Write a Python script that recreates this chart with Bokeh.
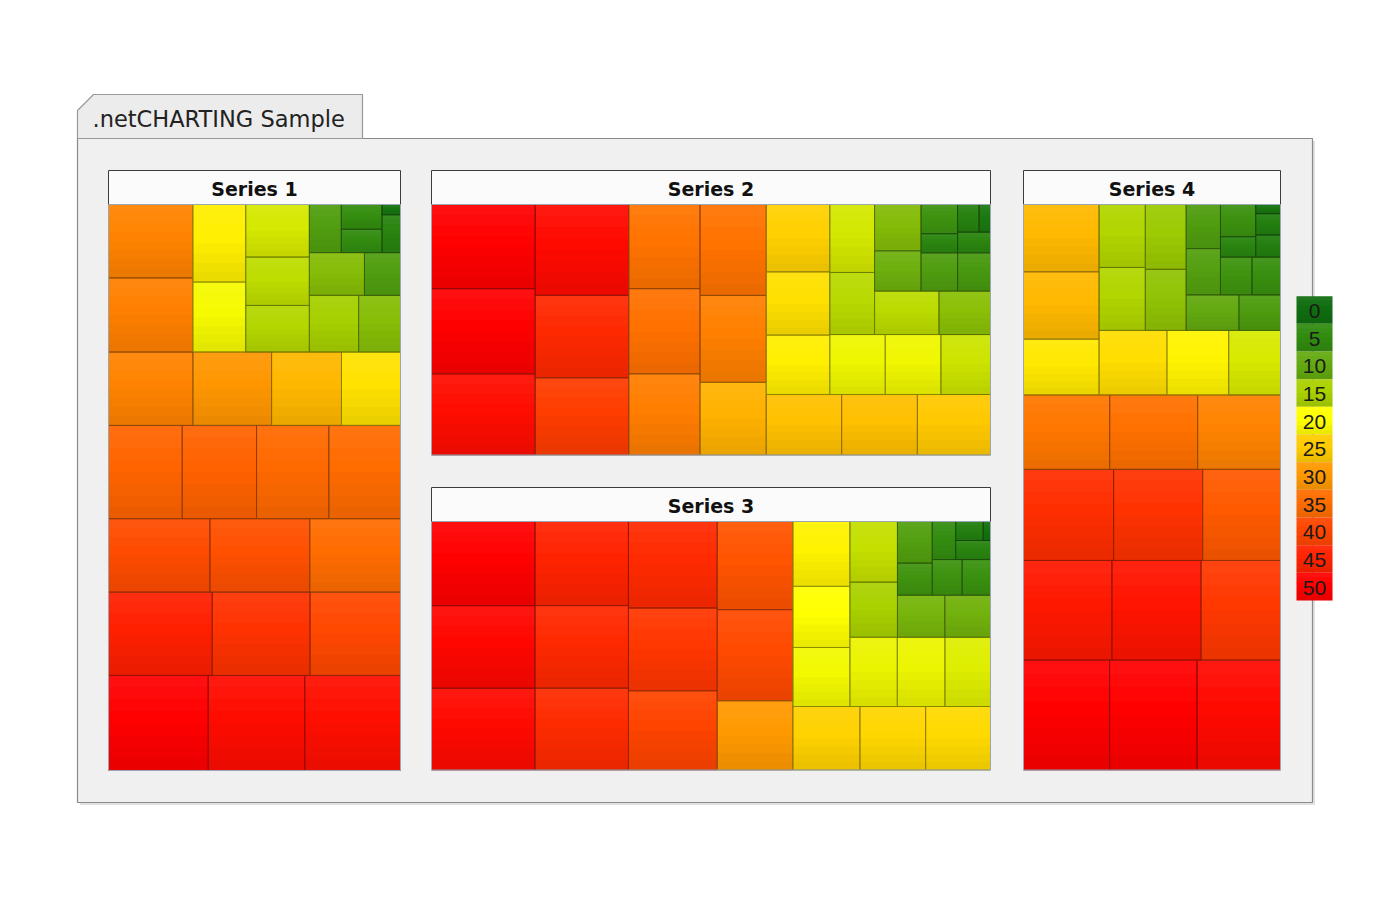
import numpy as np
from bokeh.plotting import figure
from bokeh.models import Range1d
from bokeh.core.properties import value
from bokeh.embed import file_html
from bokeh.resources import INLINE

# ---------------- data ----------------
chart_title = ".netCHARTING Sample"
series_names = ["Series 1", "Series 2", "Series 3", "Series 4"]

# each series: list of strips (groups laid out together by the treemap), values 0..50
series1 = [
    [49.9, 48.3, 47.9],
    [45.5, 42.9, 39.7],
    [39.2, 38.6, 35.1],
    [36.2, 36.5, 35.5, 35.2],
    [32.6, 30.4, 27.0, 22.8],
    [32.6, 32.9],
    [21.6, 19.5],
    [17.6, 16.2, 15.6],
    [14.7, 12.5],
    [12.4, 8.1],
    [8.1],
    [5.3, 5.0],
    [3.7],
    [1.0],
]
series2 = [
    [49.9, 50.5, 48.1],
    [48.6, 44.1, 41.3],
    [34.3, 34.7, 33.1],
    [34.4, 32.9, 27.5],
    [26.1, 26.2, 25.3],
    [24.5, 23.0, 21.6],
    [19.0, 19.1, 17.0],
    [17.4, 15.9],
    [16.0, 12.8],
    [12.3, 10.7],
    [8.0, 7.2],
    [6.1, 4.0],
    [3.9],
    [3.4],
    [1.8],
]
series3 = [
    [49.9, 49.0, 48.5],
    [45.0, 44.2, 43.8],
    [44.0, 42.1, 40.3],
    [38.2, 39.5, 30.0],
    [24.4, 23.9, 23.6],
    [21.2, 20.0, 19.3],
    [18.8, 18.9, 18.1],
    [16.5, 15.0],
    [11.4, 11.0],
    [8.3, 6.4],
    [6.1, 5.8],
    [5.1],
    [3.8],
    [3.0],
    [0.8],
]
series4 = [
    [50.0, 50.8, 48.5],
    [46.6, 47.0, 41.9],
    [43.4, 42.9, 37.5],
    [33.9, 34.6, 32.6],
    [26.9, 26.9, 22.3],
    [23.2, 21.1, 17.7],
    [15.4, 15.4],
    [14.0, 13.2],
    [9.9, 7.8],
    [8.0, 8.4],
    [6.3, 5.7],
    [6.0, 3.8],
    [2.9],
    [2.8],
    [1.2],
]
legend_ticks = [0, 5, 10, 15, 20, 25, 30, 35, 40, 45, 50]

# ---------------- style / layout ----------------
# strip orientation per series: h = row along the bottom, v = column at the left
strip_dirs = ["hhhhhvvvhhvvhh", "vvvvhvhvhvhvhvv", "vvvvhvhvhvhvhvv", "hhhhvhvvhvhvhhh"]

anchor_rgb = [(16, 110, 16), (50, 140, 16), (100, 170, 16), (170, 210, 0), (255, 255, 0),
              (255, 204, 0), (255, 153, 0), (255, 110, 0), (255, 70, 0), (255, 35, 0), (255, 0, 0)]


def rgb_of(v):
    return tuple(float(np.interp(v, legend_ticks, [c[i] for c in anchor_rgb])) for i in range(3))


def hexc(rgb, f=1.0):
    return "#%02x%02x%02x" % tuple(int(round(max(0, min(255, c * f)))) for c in rgb)


def treemap(strips, dirs, x0, y0, x1, y1):
    out = []
    rems = [sum(sum(s) for s in strips[i:]) for i in range(len(strips))]
    for strip, rem, d in zip(strips, rems, dirs):
        w, h = x1 - x0, y1 - y0
        s = sum(strip)
        if d == "h":
            t = h * s / rem
            cx = x0
            for v in strip:
                cw = w * v / s
                out.append((cx, cx + cw, y1 - t, y1, v))
                cx += cw
            y1 -= t
        else:
            t = w * s / rem
            cy = y0
            for v in strip:
                ch = h * v / s
                out.append((x0, x0 + t, cy, cy + ch, v))
                cy += ch
            x0 += t
    return out


# (title box top, cell area left, top, right, bottom) in page pixels
boxes = [
    (170, 108, 204, 400, 770),
    (170, 431, 204, 990, 454.5),
    (487, 431, 521, 990, 769.5),
    (170, 1023, 204, 1280, 769.5),
]
all_series = [series1, series2, series3, series4]

W, H = 1380, 885
p = figure(width=W, height=H, x_range=Range1d(0, W), y_range=Range1d(H, 0),
           output_backend="svg", toolbar_location=None, min_border=0,
           x_axis_location=None, y_axis_location=None)
p.grid.visible = False
p.outline_line_color = None
p.background_fill_color = "white"
p.border_fill_color = "white"

# outer panel with shadow
p.quad(left=[79.5], right=[1314.5], top=[140.5], bottom=[804.5], fill_color="#d4d4d4",
       fill_alpha=0.7, line_color=None)
p.quad(left=[77], right=[1312], top=[138], bottom=[802], fill_color="#f0f0f0",
       line_color="#8a8a8a", line_width=1.2)
# tab
p.patch(x=[77, 93, 362, 362, 77], y=[110, 94, 94, 138, 138], fill_color="#ececec",
        line_color="#9a9a9a", line_width=1.2)
p.text(x=[92], y=[118], text=[chart_title], text_font=value("DejaVu Sans"),
       text_font_size=value("22.5px"), text_color="#222222", text_align="left",
       text_baseline="middle")


def add_shading(L, R, T, B, n=8):
    bl, br, bt, bb, ba, bc = [], [], [], [], [], []
    for l, r, t, b in zip(L, R, T, B):
        for k in range(n):
            a = -0.06 + 0.14 * k / (n - 1)
            bl.append(l); br.append(r)
            bt.append(t + (b - t) * k / n); bb.append(t + (b - t) * (k + 1) / n)
            ba.append(abs(a)); bc.append("white" if a < 0 else "black")
    p.quad(left=bl, right=br, top=bt, bottom=bb, fill_color=bc, fill_alpha=ba, line_color=None)


for name, strips, dirs, (tt, x0, y0, x1, y1) in zip(series_names, all_series, strip_dirs, boxes):
    # title box
    p.quad(left=[x0], right=[x1], top=[tt], bottom=[y0], fill_color="#fbfbfb",
           line_color="#3c3c3c", line_width=1)
    p.text(x=[(x0 + x1) / 2], y=[(tt + y0) / 2 + 1], text=[name], text_font=value("DejaVu Sans"),
           text_font_size=value("19px"), text_font_style="bold", text_color="#111111",
           text_align="center", text_baseline="middle")
    cells = treemap(strips, dirs, x0, y0, x1, y1)
    L = [c[0] for c in cells]; R = [c[1] for c in cells]
    T = [c[2] for c in cells]; B = [c[3] for c in cells]
    V = [c[4] for c in cells]
    fills = [hexc(rgb_of(v)) for v in V]
    lines = [hexc(rgb_of(v), 0.55) for v in V]
    p.quad(left=L, right=R, top=T, bottom=B, fill_color=fills, line_color=None)
    add_shading(L, R, T, B)
    p.quad(left=L, right=R, top=T, bottom=B, fill_color=None, line_color=lines,
           line_width=1, line_alpha=0.8)
    p.quad(left=[x0], right=[x1], top=[y0], bottom=[y1], fill_color=None,
           line_color="#9aa6b2", line_width=1)

# colour legend
lx0, lx1, ly0, ly1 = 1296, 1332, 295.7, 600
step = (ly1 - ly0) / len(legend_ticks)
LT = [ly0 + i * step for i in range(len(legend_ticks))]
LB = [t + step for t in LT]
p.quad(left=[lx0] * len(LT), right=[lx1] * len(LT), top=LT, bottom=LB,
       fill_color=[hexc(rgb_of(v)) for v in legend_ticks], line_color=None)
add_shading([lx0] * len(LT), [lx1] * len(LT), LT, LB, n=6)
p.text(x=[(lx0 + lx1) / 2] * len(LT), y=[(t + b) / 2 + 1 for t, b in zip(LT, LB)],
       text=[str(v) for v in legend_ticks], text_font=value("Liberation Sans"),
       text_font_size=value("21px"), text_color="#1a1a1a", text_align="center",
       text_baseline="middle")

open("out.html", "w").write(file_html(p, INLINE))
